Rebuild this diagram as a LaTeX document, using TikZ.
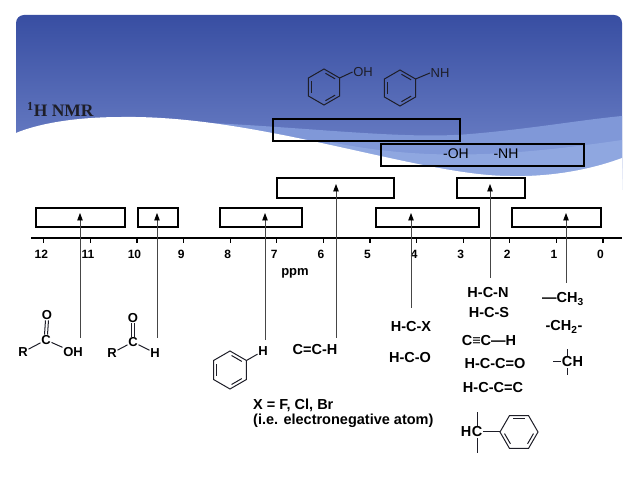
\documentclass[tikz,border=0pt]{standalone}
\usepackage{fontspec}
\setmainfont{Liberation Sans}
\newfontfamily\nmrserif{Liberation Serif}
\usetikzlibrary{arrows.meta,calc}

\definecolor{slidetop}{RGB}{56,78,162}
\definecolor{slidebot}{RGB}{122,142,208}
\definecolor{waveband}{RGB}{128,152,216}
\definecolor{wavelite}{RGB}{150,174,228}
\definecolor{arrowgray}{RGB}{70,70,70}
\definecolor{inkdark}{RGB}{30,30,40}

\tikzset{
  shiftbox/.style={draw=black,line width=1.9pt,inner sep=0pt,anchor=north west},
  ppmarrow/.style={->,draw=arrowgray,line width=0.8pt},
  grp/.style={font=\bfseries\fontsize{14.5}{16}\selectfont,inner sep=1pt},
  atom/.style={font=\bfseries\fontsize{13}{14}\selectfont,inner sep=0.6pt},
  ticklbl/.style={font=\bfseries\fontsize{12}{13}\selectfont,inner sep=0pt},
  bond/.style={line width=1pt,draw=inkdark},
}

\begin{document}
\begin{tikzpicture}[x=1pt,y=-1pt,>={Triangle[length=7.5pt,width=5.5pt,color=black]}]
\useasboundingbox (0,0) rectangle (638,478);
\shade[top color=slidetop,bottom color=slidebot,rounded corners=8pt] (16,15) rectangle (622,200);
\fill[waveband] (185,122) .. controls (300,126) and (400,140) .. (470,134) .. controls (530,129) and (580,120) .. (622,116) -- (622,200) -- (185,200) -- cycle;
\fill[wavelite,opacity=0.7] (330,142) .. controls (420,160) and (500,158) .. (622,140) -- (622,200) -- (330,200) -- cycle;
\fill[white] (16,133) .. controls (35,125) and (70,117) .. (122,117) .. controls (260,115) and (420,176) .. (510,176) .. controls (550,177) and (590,170) .. (622,158) -- (623,201) -- (15,201) -- cycle;

\node[font=\nmrserif\bfseries\fontsize{17.5}{19}\selectfont,text=inkdark,anchor=base west,inner sep=0pt] (title) at (27,117) {\textsuperscript{1}H NMR};

\coordinate (phenol) at (324,87);
\draw[bond] (phenol) +(-90:18) -- +(-30:18) -- +(30:18) -- +(90:18) -- +(150:18) -- +(210:18) -- cycle;
\foreach \m in {-60,60,180} \draw[bond] (phenol) +(\m-24:13.8) -- +(\m+24:13.8);
\node[font=\fontsize{13}{14}\selectfont,text=inkdark,inner sep=0.5pt] (phOH) at (363,72) {OH};
\draw[bond] (phenol) +(-30:18) -- (phOH.west);

\coordinate (aniline) at (400,88);
\draw[bond] (aniline) +(-90:18) -- +(-30:18) -- +(30:18) -- +(90:18) -- +(150:18) -- +(210:18) -- cycle;
\foreach \m in {-60,60,180} \draw[bond] (aniline) +(\m-24:13.8) -- +(\m+24:13.8);
\node[font=\fontsize{13}{14}\selectfont,text=inkdark,inner sep=0.5pt] (anNH) at (440,73) {NH};
\draw[bond] (aniline) +(-30:18) -- (anNH.west);

\node[shiftbox,minimum width=187pt,minimum height=22pt] (phenbox) at (272,118) {};
\node[shiftbox,minimum width=203pt,minimum height=22pt] (ohnh) at (380,143) {};
\node[font=\fontsize{14}{15}\selectfont] (oh) at (456,154) {-OH};
\node[font=\fontsize{14}{15}\selectfont] (nh) at (506,154) {-NH};
\node[shiftbox,minimum width=117pt,minimum height=20pt] (alkene) at (276,177) {};
\node[shiftbox,minimum width=68pt,minimum height=20pt] (alpha) at (456,177) {};
\node[shiftbox,minimum width=89pt,minimum height=19pt] (acid) at (35,207) {};
\node[shiftbox,minimum width=40pt,minimum height=19pt] (ald) at (137,207) {};
\node[shiftbox,minimum width=82pt,minimum height=19pt] (arom) at (219,207) {};
\node[shiftbox,minimum width=103pt,minimum height=19pt] (hetero) at (375,207) {};
\node[shiftbox,minimum width=89pt,minimum height=19pt] (alkyl) at (511,207) {};

\draw[line width=1.6pt] (31,238) -- (622,238);
\foreach \p in {0,...,12} {
  \draw[line width=1.3pt] ({603-46.6*\p},238) -- ++(0,5);
  \node[ticklbl] (t\p) at ({600.5-46.6*\p},254) {\p};
}
\node[ticklbl,font=\bfseries\fontsize{13}{14}\selectfont] (ppm) at (295,273) {ppm};

\node[atom] (acO) at (47,315) {O};
\node[atom] (acC) at (46,340) {C};
\node[atom] (acR) at (23,352) {R};
\node[atom] (acOH) at (73,352) {OH};
\draw[bond] ([xshift=-1.5pt]acO.south) -- ([xshift=-1.5pt]acC.north);
\draw[bond] ([xshift=1.5pt]acO.south) -- ([xshift=1.5pt]acC.north);
\draw[bond] (acR) -- (acC);
\draw[bond] (acC) -- (acOH);

\node[atom] (alO) at (133,318) {O};
\node[atom] (alC) at (133,342) {C};
\node[atom] (alR) at (112,353) {R};
\node[atom] (alH) at (155,353) {H};
\draw[bond] ([xshift=-1.5pt]alO.south) -- ([xshift=-1.5pt]alC.north);
\draw[bond] ([xshift=1.5pt]alO.south) -- ([xshift=1.5pt]alC.north);
\draw[bond] (alR) -- (alC);
\draw[bond] (alC) -- (alH);

\coordinate (benz) at (230,370);
\draw[bond] (benz) +(-90:19) -- +(-30:19) -- +(30:19) -- +(90:19) -- +(150:19) -- +(210:19) -- cycle;
\foreach \m in {-60,60,180} \draw[bond] (benz) +(\m-24:14.6) -- +(\m+24:14.6);
\node[atom] (bzH) at (263,351) {H};
\draw[bond] (benz) +(-30:19) -- (bzH);

\node[grp] (cch) at (315,350) {C=C-H};
\node[grp] (hcx) at (411,327) {H-C-X};
\node[grp] (hco) at (410,358) {H-C-O};
\node[grp,anchor=west] (xdef) at (252,405) {X = F, Cl, Br};
\node[grp,anchor=west] (xnote) at (252,421) {(i.e. electronegative atom)};
\node[grp] (hcn) at (488,293) {H-C-N};
\node[grp] (hcs) at (489,313) {H-C-S};
\node[grp] (alkyne) at (489,341) {C≡C—H};
\node[grp] (hcco) at (495,364) {H-C-C=O};
\node[grp] (hccc) at (493,388) {H-C-C=C};
\node[grp] (ch3) at (563,299) {—CH\textsubscript{3}};
\node[grp] (ch2) at (564,327) {-CH\textsubscript{2}-};

\node[grp] (chC) at (567,362) {C};
\node[grp,anchor=west,inner sep=0pt,xshift=-1pt] (chH) at (chC.east) {H};
\draw[bond] (chC.north) -- ++(0,-7);
\draw[bond] (chC.south) -- ++(0,7);
\draw[bond] (chC.west) -- ++(-8,0);

\node[grp] (bnC) at (477,432) {C};
\node[grp,anchor=east,inner sep=0pt,xshift=1pt] (bnH) at (bnC.west) {H};
\draw[bond] (bnC.north) -- ++(0,-14);
\draw[bond] (bnC.south) -- ++(0,15);
\coordinate (benzyl) at (519,432);
\draw[bond] (benzyl) +(0:19) -- +(60:19) -- +(120:19) -- +(180:19) -- +(240:19) -- +(300:19) -- cycle;
\foreach \m in {-90,30,150} \draw[bond] (benzyl) +(\m-24:14.6) -- +(\m+24:14.6);
\draw[bond] (bnC.east) -- ($(benzyl)+(180:19)$);

\foreach \x/\y/\b/\d in {80/338/acid/6, 157/338/ald/6, 265/340/arom/6, 336/338/alkene/7, 411/308/hetero/6, 490/278/alpha/7, 566/283/alkyl/6} {
  \coordinate (from\b) at (\x,\y);
  \draw[ppmarrow] (from\b) -- ($(from\b |- \b.north)+(0,\d)$);
}
\end{tikzpicture}
\end{document}
